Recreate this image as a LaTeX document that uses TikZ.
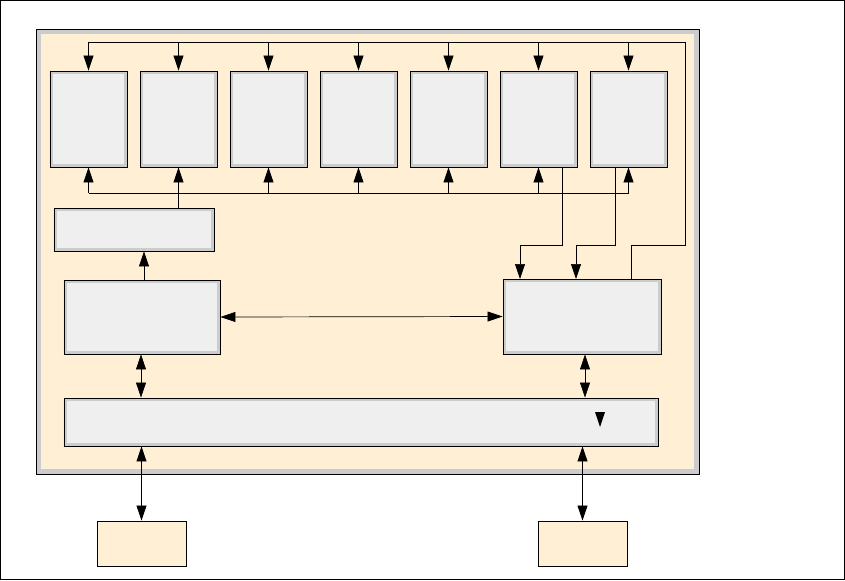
\documentclass[tikz,border=0pt]{standalone}
\usetikzlibrary{arrows.meta,positioning}
\definecolor{panel}{HTML}{FFF0D5}
\definecolor{boxfill}{HTML}{EFEFEF}
\definecolor{boxrim}{HTML}{CCCCCC}
\tikzset{
  box/.style   = {draw, thick, fill=boxfill, inner sep=0pt,
                  path picture={\draw[boxrim, line width=5pt]
                    (path picture bounding box.south west) rectangle
                    (path picture bounding box.north east);}},
  unit/.style  = {box, minimum width=2.31cm, minimum height=2.88cm},
  ext/.style   = {draw, thick, fill=panel, inner sep=0pt,
                  minimum width=2.67cm, minimum height=1.35cm},
  tip/.style   = {-{Triangle[length=4.5mm,width=3mm]}},
  both/.style  = {{Triangle[length=4.5mm,width=3mm]}-{Triangle[length=4.5mm,width=3mm]}}
}
\begin{document}
\begin{tikzpicture}[x=0.03cm, y=-0.03cm, semithick]
\useasboundingbox (0,0) rectangle (845,580);
\draw[thin] (0.5,0.5) rectangle (844.5,579.5);

% outer panel
\draw[panel, fill=panel] (36,29) rectangle (699,474);
\draw[boxrim, line width=4pt] (38.5,31.5) rectangle (696.5,471.5);
\draw[thick] (36,29) rectangle (699,474);

% row of units
\foreach \i in {1,...,7}
  \node[unit] (u\i) at ({88.5+90*(\i-1)},119) {};

% inner blocks
\node[box, minimum width=4.8cm, minimum height=1.29cm] (reg) at (134,229.5) {};
\node[box, minimum width=4.68cm, minimum height=2.22cm] (ctl) at (142,317) {};
\node[box, minimum width=4.74cm, minimum height=2.25cm] (mgr) at (582,316.5) {};
\node[box, minimum width=17.82cm, minimum height=1.44cm] (bus) at (361,422) {};
\node[ext] (ex1) at (141.5,543.5) {};
\node[ext] (ex2) at (582.5,543.5) {};

% top bus, down to every unit
\coordinate (tl) at (88.5,42);
\coordinate (tr) at (685,42);
\draw (tl) -- (tr) -- (685,245) -- (631,245) -- (631,279);
\foreach \i in {1,...,7}
  \draw[tip] (u\i.north |- tl) -- (u\i.north);

% lower bus, up to every unit
\coordinate (bl) at (88.5,193);
\draw (bl) -- (u7.south |- bl);
\foreach \i in {1,...,7}
  \draw[tip] (u\i.south |- bl) -- (u\i.south);
\draw (reg.north -| u2) -- (u2.south |- bl);
\draw[tip] (ctl.north -| 144,0) -- (reg.south -| 144,0);

% units 6 and 7 to the manager
\draw[tip] (562,167) -- (562,245) -- (520,245) -- (520,279);
\draw[tip] (615,167) -- (615,245) -- (576,245) -- (576,279);

\draw[both] (ctl.east) -- (mgr.west);
\draw[both] (ctl.south -| 141,0) -- (bus.north -| 141,0);
\draw[both] (mgr.south -| 585,0) -- (bus.north -| 585,0);
\draw[both] (bus.south -| ex1) -- (ex1.north);
\draw[both] (bus.south -| ex2) -- (ex2.north);
\fill (595,412) -- (605,412) -- (600,427) -- cycle;
\end{tikzpicture}
\end{document}
